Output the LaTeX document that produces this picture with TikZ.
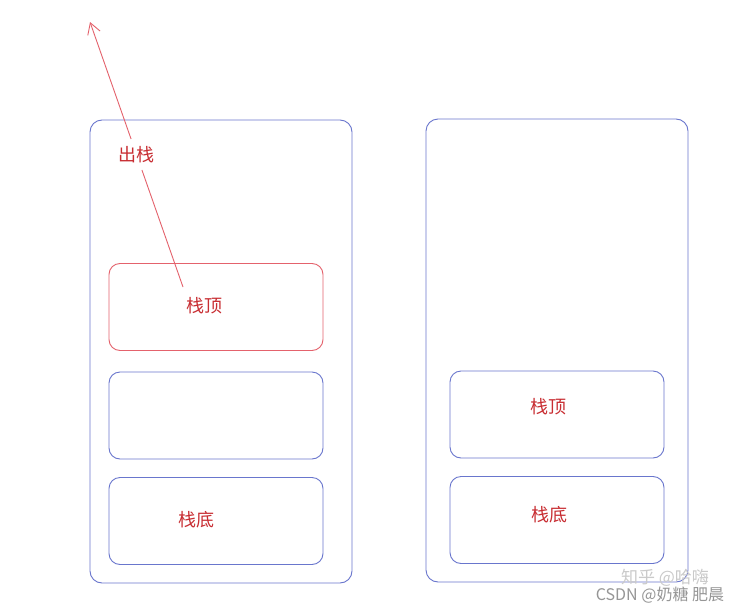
\documentclass[tikz,border=0pt]{standalone}
\usepackage{fontspec}
\setmainfont{Noto Sans CJK SC}
\usepackage{tikz}
\usetikzlibrary{arrows.meta,positioning,calc}
\definecolor{stackblue}{RGB}{105,118,205}
\definecolor{topred}{RGB}{228,98,108}
\definecolor{textred}{RGB}{200,45,50}
\definecolor{markgray}{RGB}{150,150,150}
\tikzstyle{stackbox} = [draw=stackblue,line width=0.9pt,rounded corners=12pt,minimum width=262pt,minimum height=463pt,inner sep=0pt]
\tikzstyle{cell} = [draw=stackblue,line width=0.9pt,rounded corners=11pt,minimum width=214pt,minimum height=87pt,inner sep=0pt,text=textred,font=\fontsize{18}{18}\selectfont]
\tikzstyle{topcell} = [cell,draw=topred]
\tikzstyle{label} = [text=textred,font=\fontsize{18}{18}\selectfont]
\tikzset{>={Straight Barb[length=11pt,width=13pt]}}

\begin{document}
\begin{tikzpicture}[x=1pt,y=-1pt]
    \useasboundingbox [fill=white] (0,0) rectangle (752,613);
    % left stack
    \node [stackbox] (lstack) at (221,351.5) {};
    \node [topcell] (ltop) at (216,307) {};
    \node [label] at (204,306) {栈顶};
    \node [cell] (lmid) at (216,415.5) {};
    \node [cell] (lbottom) at (216,521) {};
    \node [label] at (196,520) {栈底};
    % right stack
    \node [stackbox] (rstack) at (557,350.5) {};
    \node [cell] (rtop) at (557,414.5) {};
    \node [label] at (548,407) {栈顶};
    \node [cell] (rbottom) at (557,520) {};
    \node [label] at (549,515) {栈底};
    % pop
    \coordinate (pop) at (183,287);
    \coordinate (out) at (90,22);
    \path (pop) -- node [label,inner xsep=1pt,inner ysep=7pt] (poplabel) {出栈} (out);
    \draw [draw=topred,line width=0.9pt] (pop) -- (poplabel);
    \draw [->,draw=topred,line width=0.9pt] (poplabel) -- (out);
    % watermark
    \node [text=markgray!50,font=\fontsize{17}{17}\selectfont] at (665,578) {知乎 @哈嗨};
    \node [text=markgray,font=\fontsize{16}{16}\selectfont] at (660,595) {CSDN @奶糖 肥晨};
  \end{tikzpicture}
\end{document}
